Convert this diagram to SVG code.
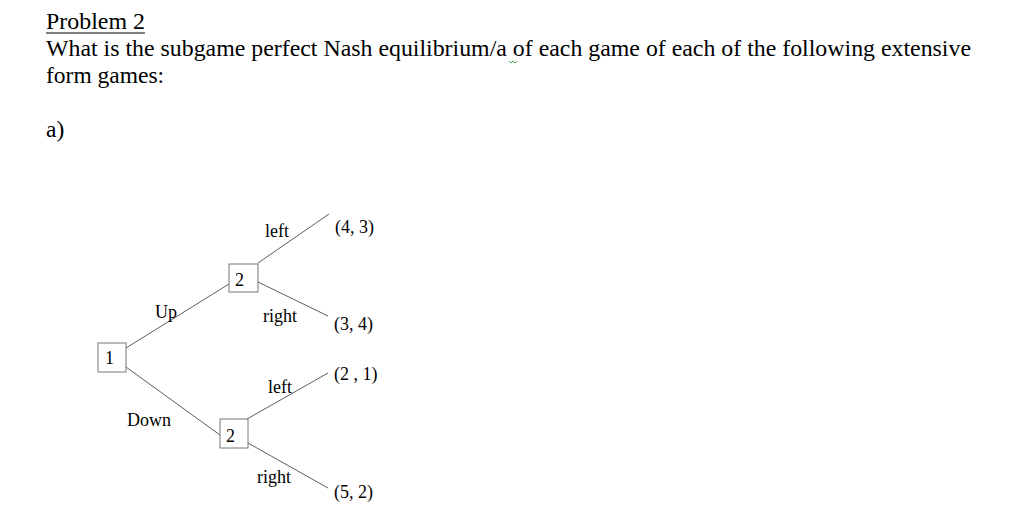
<svg xmlns="http://www.w3.org/2000/svg" width="1024" height="531" viewBox="0 0 1024 531">
<style>
text{font-family:"Liberation Serif",serif;fill:#000}
.h{font-size:23.5px}
.t{font-size:18px}
.n rect{fill:#fff;stroke:#777;stroke-width:1}
#edges line{stroke:#333;stroke-width:0.8}
</style>
<rect width="1024" height="531" fill="#fff"/>
<text class="h" x="46" y="29" textLength="99" lengthAdjust="spacingAndGlyphs">Problem 2</text>
<line x1="46" y1="33" x2="145" y2="33" stroke="#000" stroke-width="1"/>
<text class="h" x="46" y="56" textLength="925" lengthAdjust="spacingAndGlyphs">What is the subgame perfect Nash equilibrium/a of each game of each of the following extensive</text>
<path d="M509,61 l2,2 l2,-2 l2,2 l2,-2" stroke="#2a8a2a" fill="none" stroke-width="0.8"/>
<text class="h" x="46" y="83">form games:</text>
<text class="h" x="46" y="137">a)</text>
<g id="edges">
<line x1="126" y1="348" x2="229" y2="284"/>
<line x1="126" y1="367" x2="220" y2="435"/>
<line x1="258" y1="263" x2="329" y2="214"/>
<line x1="258" y1="282" x2="328" y2="316"/>
<line x1="247" y1="419" x2="328" y2="373"/>
<line x1="248" y1="443" x2="328" y2="488"/>
</g>
<g id="n1" class="n"><rect x="98" y="343" width="28" height="29"/><text class="t" x="105" y="364">1</text></g>
<g id="n2a" class="n"><rect x="229" y="264" width="29" height="28"/><text class="t" x="235" y="286">2</text></g>
<g id="n2b" class="n"><rect x="220" y="419" width="28" height="29"/><text class="t" x="226" y="442">2</text></g>
<g>
<text class="t" x="265" y="237">left</text>
<text class="t" x="335" y="233">(4, 3)</text>
<text class="t" x="155" y="318">Up</text>
<text class="t" x="263" y="322">right</text>
<text class="t" x="334" y="330">(3, 4)</text>
<text class="t" x="334" y="380">(2 , 1)</text>
<text class="t" x="268" y="393">left</text>
<text class="t" x="127" y="426">Down</text>
<text class="t" x="257" y="483">right</text>
<text class="t" x="334" y="498">(5, 2)</text>
</g>
</svg>
